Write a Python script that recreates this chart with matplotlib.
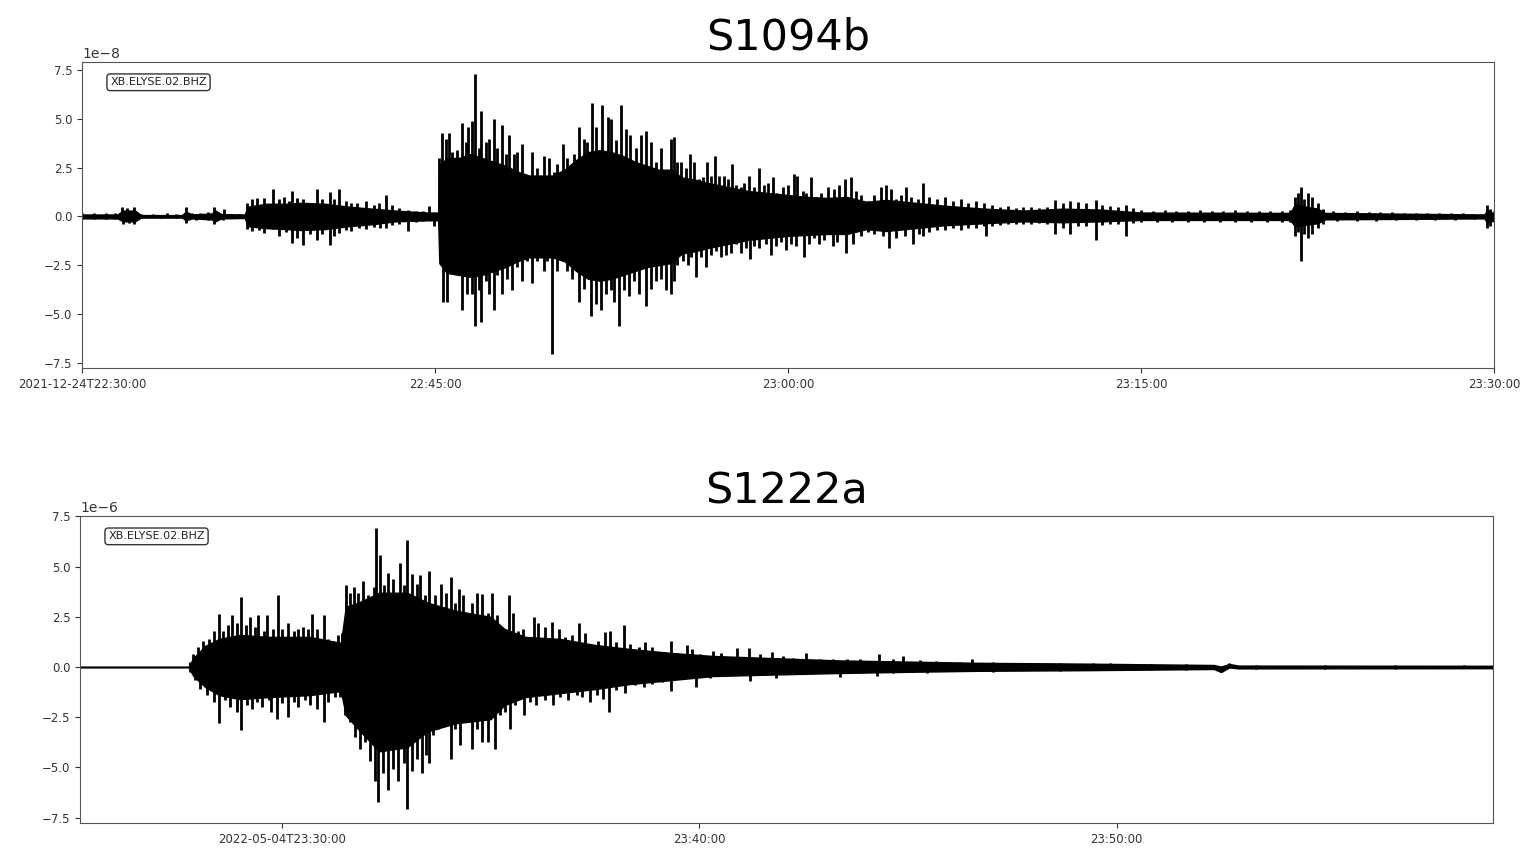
import matplotlib
matplotlib.use("Agg")
import matplotlib.pyplot as plt
import numpy as np

# ---------------- data ----------------
# Panel 1: S1094b — time in s after 2021-12-24T22:30:00, amplitude in units of 1e-8
# solid core of the trace: (t, upper, lower)
core1 = [(0, 0.1, -0.1), (90, 0.1, -0.1), (105, 0.3, -0.25), (135, 0.3, -0.25), (150, 0.07, -0.06),
         (255, 0.07, -0.06), (265, 0.25, -0.2), (280, 0.1, -0.1), (330, 0.15, -0.15), (340, 0.3, -0.25),
         (355, 0.12, -0.1), (415, 0.1, -0.08), (422, 0.5, -0.5), (470, 0.65, -0.6), (520, 0.65, -0.65),
         (560, 0.7, -0.7), (620, 0.65, -0.65), (680, 0.5, -0.5), (740, 0.4, -0.4), (800, 0.3, -0.25),
         (880, 0.2, -0.2), (908, 0.2, -0.2), (911, 2.6, -2.4), (930, 3.0, -2.9), (960, 3.0, -3.0),
         (990, 3.2, -3.1), (1020, 3.0, -3.0), (1050, 2.8, -2.8), (1080, 2.6, -2.6), (1110, 2.3, -2.3),
         (1140, 2.1, -2.1), (1170, 2.1, -2.1), (1200, 2.1, -2.1), (1230, 2.4, -2.3), (1260, 2.9, -2.8),
         (1290, 3.3, -3.2), (1320, 3.4, -3.3), (1350, 3.3, -3.2), (1380, 3.1, -3.0), (1410, 2.8, -2.8),
         (1440, 2.6, -2.6), (1470, 2.4, -2.5), (1500, 2.4, -2.4), (1530, 2.0, -1.9), (1560, 1.9, -1.8),
         (1600, 1.7, -1.6), (1650, 1.5, -1.4), (1700, 1.3, -1.2), (1750, 1.2, -1.1), (1800, 1.1, -1.0),
         (1850, 1.0, -0.95), (1900, 0.95, -0.9), (1950, 1.0, -0.9), (2000, 0.75, -0.65), (2050, 0.85, -0.75),
         (2100, 0.75, -0.65), (2150, 0.65, -0.55), (2200, 0.55, -0.45), (2300, 0.4, -0.35),
         (2400, 0.3, -0.25), (2500, 0.4, -0.3), (2600, 0.35, -0.25), (2700, 0.2, -0.18), (3080, 0.18, -0.18),
         (3092, 0.6, -0.5), (3150, 0.4, -0.35), (3170, 0.18, -0.15), (3575, 0.1, -0.1), (3582, 0.3, -0.3),
         (3600, 0.15, -0.2)]
# peaks of the trace: (t, value)
peaks1_up = [(0, 0.2), (30, 0.2), (60, 0.2), (85, 0.2), (102, 0.5), (115, 0.45), (132, 0.5), (150, 0.1),
             (180, 0.1), (217, 0.2), (240, 0.1), (264, 0.5), (281, 0.2), (300, 0.2), (320, 0.25),
             (336, 0.5), (350, 0.2), (362, 0.4), (380, 0.15), (400, 0.15), (421, 0.7), (434, 0.9),
             (447, 0.95), (464, 0.95), (472, 0.6), (488, 1.4), (502, 0.9), (515, 1.0), (528, 0.8),
             (536, 1.3), (549, 0.95), (564, 0.9), (579, 0.7), (598, 1.4), (613, 0.9), (632, 1.25),
             (643, 0.9), (655, 1.4), (672, 0.8), (685, 0.7), (702, 0.7), (723, 0.8), (745, 0.6),
             (757, 0.7), (776, 1.1), (791, 0.6), (808, 0.45), (830, 0.35), (851, 0.3), (870, 0.3),
             (885, 0.55), (898, 0.1),
             (910, 3.0), (918, 4.3), (927, 4.0), (935, 4.3), (944, 3.3), (957, 3.4), (969, 4.8),
             (978, 3.8), (985, 4.6), (995, 4.9), (1003, 7.3), (1012, 3.5), (1018, 5.4), (1029, 3.8),
             (1037, 4.0), (1050, 5.0), (1059, 3.5), (1071, 4.7), (1080, 3.2), (1088, 4.2), (1101, 3.2),
             (1110, 3.3), (1122, 3.7), (1131, 2.1), (1148, 3.3), (1161, 2.5), (1178, 3.1), (1191, 3.0),
             (1203, 2.3), (1212, 2.7), (1225, 3.7), (1237, 3.0), (1254, 3.2), (1267, 4.6), (1280, 4.0),
             (1288, 3.8), (1299, 5.8), (1310, 4.6), (1325, 5.7), (1340, 5.1), (1348, 5.0), (1361, 3.9),
             (1374, 5.7), (1386, 4.5), (1397, 4.2), (1412, 3.5), (1425, 4.2), (1437, 4.4), (1450, 3.8),
             (1463, 2.8), (1476, 3.5), (1488, 2.1), (1501, 4.0),
             (1510, 4.1), (1518, 2.8), (1527, 2.8), (1539, 2.5), (1550, 3.2), (1561, 2.8), (1573, 1.9),
             (1582, 2.0), (1593, 2.8), (1603, 2.1), (1614, 3.1), (1624, 2.1), (1637, 2.1), (1646, 1.9),
             (1656, 2.7), (1667, 1.6), (1680, 1.5), (1688, 1.7), (1701, 2.1), (1714, 1.5), (1725, 2.5),
             (1739, 1.6), (1748, 1.7), (1761, 2.0), (1773, 1.2), (1786, 1.5), (1799, 1.6), (1814, 2.2),
             (1824, 2.1), (1837, 1.3), (1846, 1.2), (1858, 2.0), (1871, 1.0), (1884, 1.2), (1901, 1.5),
             (1918, 1.4), (1931, 1.6), (1944, 1.9), (1961, 2.0), (1973, 1.3), (1986, 1.1), (2003, 0.8),
             (2020, 1.1), (2037, 1.5), (2050, 1.6), (2063, 1.4), (2075, 0.9), (2088, 1.1), (2101, 1.5),
             (2114, 1.0), (2131, 0.9),
             (2144, 1.7), (2160, 1.0), (2180, 0.9), (2200, 1.0), (2220, 0.8), (2240, 0.9), (2260, 0.7),
             (2280, 0.8), (2300, 0.7), (2320, 0.6), (2340, 0.5), (2360, 0.55), (2380, 0.45), (2400, 0.5),
             (2420, 0.5), (2440, 0.45), (2460, 0.5), (2480, 0.85), (2500, 0.7), (2520, 0.8), (2540, 0.75),
             (2560, 0.7), (2586, 0.85), (2600, 0.6), (2620, 0.55), (2640, 0.5), (2662, 0.6), (2680, 0.45),
             (2700, 0.35), (2730, 0.3), (2760, 0.35), (2790, 0.3), (2820, 0.3), (2850, 0.35), (2880, 0.3),
             (2910, 0.3), (2940, 0.35), (2970, 0.3), (3000, 0.3), (3030, 0.3), (3060, 0.3), (3080, 0.35),
             (3092, 1.0), (3100, 1.2), (3107, 1.5), (3115, 0.9), (3125, 1.2), (3135, 1.0), (3150, 0.7),
             (3165, 0.4), (3190, 0.3), (3220, 0.25), (3250, 0.3), (3280, 0.25), (3310, 0.25), (3340, 0.25),
             (3370, 0.2), (3400, 0.2), (3430, 0.2), (3460, 0.2), (3490, 0.2), (3520, 0.18), (3550, 0.15),
             (3570, 0.15), (3581, 0.6), (3590, 0.4), (3600, 0.3)]
peaks1_dn = [(0, -0.15), (30, -0.15), (60, -0.15), (85, -0.15), (105, -0.4), (120, -0.35), (132, -0.4),
             (150, -0.07), (200, -0.07), (240, -0.07), (264, -0.35), (290, -0.2), (320, -0.2), (336, -0.4),
             (360, -0.2), (390, -0.1), (421, -0.67), (434, -0.75), (450, -0.7), (464, -0.85), (488, -0.67),
             (502, -1.0), (520, -0.8), (536, -1.35), (549, -1.1), (564, -1.45), (580, -0.9), (598, -1.2),
             (613, -0.9), (632, -1.45), (643, -1.0), (655, -0.85), (672, -0.7), (685, -0.75), (705, -0.6),
             (723, -0.67), (745, -0.55), (760, -0.6), (776, -0.6), (790, -0.45), (808, -0.4), (830, -0.75),
             (851, -0.3), (870, -0.25), (885, -0.15), (898, -0.5),
             (914, -2.3), (920, -4.4), (931, -4.4), (944, -2.8), (957, -2.6), (969, -4.8), (982, -4.0),
             (995, -4.0), (1003, -5.6), (1012, -3.8), (1018, -5.4), (1029, -3.3), (1037, -4.0),
             (1050, -4.8), (1059, -3.0), (1071, -4.0), (1084, -3.2), (1097, -3.8), (1110, -2.6),
             (1122, -3.3), (1135, -2.3), (1148, -3.4), (1161, -2.3), (1178, -2.8), (1186, -2.3),
             (1197, -7.06), (1212, -2.8), (1225, -2.3), (1237, -2.8), (1250, -3.2), (1267, -4.4),
             (1280, -3.7), (1297, -5.1), (1310, -4.5), (1322, -4.8), (1335, -4.0), (1348, -3.8),
             (1357, -4.4), (1369, -5.6), (1382, -3.8), (1395, -4.1), (1408, -3.3), (1420, -4.0),
             (1437, -4.6), (1450, -3.7), (1463, -3.3), (1476, -3.2), (1488, -3.8),
             (1501, -4.0), (1510, -3.3), (1518, -2.5), (1531, -2.3), (1544, -2.5), (1552, -2.1),
             (1565, -3.1), (1578, -2.1), (1590, -2.6), (1603, -2.0), (1616, -1.8), (1629, -2.1),
             (1641, -2.0), (1654, -1.9), (1667, -1.4), (1680, -1.9), (1693, -1.6), (1703, -2.2),
             (1714, -1.5), (1727, -1.6), (1744, -1.4), (1756, -2.0), (1769, -1.5), (1782, -1.3),
             (1795, -1.7), (1807, -1.4), (1820, -1.5), (1840, -2.1), (1854, -1.4), (1867, -1.1),
             (1880, -1.4), (1892, -1.2), (1914, -1.5), (1926, -1.3), (1948, -1.9), (1965, -1.4),
             (1986, -1.0), (2003, -0.8), (2020, -0.9), (2041, -1.0), (2058, -1.6), (2075, -1.1),
             (2097, -1.0), (2118, -1.4), (2135, -0.9),
             (2144, -1.0), (2160, -0.8), (2180, -0.7), (2200, -0.7), (2220, -0.6), (2240, -0.7),
             (2260, -0.6), (2280, -0.6), (2300, -0.5), (2304, -1.0), (2320, -0.5), (2340, -0.45),
             (2360, -0.4), (2380, -0.4), (2400, -0.4), (2420, -0.4), (2440, -0.35), (2460, -0.4),
             (2480, -0.9), (2500, -0.6), (2520, -0.9), (2540, -0.5), (2560, -0.5), (2586, -1.2),
             (2600, -0.45), (2620, -0.4), (2640, -0.4), (2662, -1.0), (2680, -0.35), (2700, -0.3),
             (2740, -0.3), (2780, -0.3), (2820, -0.3), (2860, -0.3), (2900, -0.3), (2940, -0.3),
             (2980, -0.3), (3020, -0.3), (3060, -0.3), (3080, -0.3), (3092, -1.0), (3100, -0.8),
             (3107, -2.3), (3115, -0.9), (3125, -1.1), (3135, -0.9), (3150, -0.6), (3165, -0.4),
             (3200, -0.25), (3250, -0.25), (3300, -0.22), (3350, -0.2), (3400, -0.2), (3450, -0.18),
             (3500, -0.17), (3550, -0.15), (3581, -0.6), (3590, -0.5), (3600, -0.3)]
ticks1 = [0, 900, 1800, 2700, 3600]
ticklabels1 = ["2021-12-24T22:30:00", "22:45:00", "23:00:00", "23:15:00", "23:30:00"]

# Panel 2: S1222a — time in s relative to 2022-05-04T23:30:00, amplitude in units of 1e-6
core2 = [(-290, 0.02, -0.02), (-134, 0.02, -0.02), (-127, 0.45, -0.45), (-110, 1.05, -1.0),
         (-90, 1.4, -1.4), (-60, 1.6, -1.6), (-20, 1.5, -1.5), (40, 1.5, -1.4), (85, 1.2, -1.2),
         (92, 3.0, -2.4), (110, 3.2, -3.1), (140, 3.7, -4.2), (180, 3.7, -4.0), (210, 3.2, -3.2),
         (250, 2.8, -2.8), (300, 2.5, -2.6), (320, 1.9, -1.9), (350, 1.5, -1.5), (400, 1.4, -1.3),
         (450, 1.1, -1.1), (500, 0.9, -0.85), (560, 0.7, -0.65), (620, 0.55, -0.45), (700, 0.45, -0.38),
         (800, 0.33, -0.3), (900, 0.27, -0.24), (1000, 0.21, -0.19), (1150, 0.17, -0.16),
         (1340, 0.1, -0.1), (1350, 0.02, -0.25), (1362, 0.15, -0.02), (1375, 0.07, -0.07),
         (1741, 0.06, -0.06)]
peaks2_up = [(-290, 0.02), (-136, 0.02), (-132, 0.25), (-127, 0.65), (-120, 1.0), (-113, 1.3), (-105, 1.4),
             (-98, 1.8), (-90, 2.65), (-84, 1.8), (-78, 2.1), (-72, 2.6), (-65, 2.2), (-58, 3.5), (-51, 2.1),
             (-45, 2.5), (-38, 2.0), (-34, 2.6), (-26, 1.8), (-21, 2.6), (-13, 1.9), (-6, 3.6), (0, 1.9),
             (9.5, 2.2), (17, 1.8), (24, 1.9), (31, 2.0), (38, 1.9), (43, 2.65), (50, 1.9), (60, 2.6),
             (67, 1.4), (74, 1.3), (81, 1.6), (86, 1.7), (92, 4.1), (98, 3.7), (104, 4.0), (110, 3.7),
             (117, 4.3), (124, 3.6), (132, 4.0), (136, 6.9), (141, 5.6), (147, 4.1), (153, 4.7), (160, 4.4),
             (170, 5.2), (175, 4.1), (180, 6.3), (187, 4.65), (194, 4.15), (199, 4.6), (206, 3.6), (211, 4.8),
             (216, 2.7), (220, 3.6), (229, 4.15), (236, 3.7), (243, 4.5), (249, 3.2), (255, 3.9), (261, 3.6),
             (268, 2.6), (273, 3.2), (281, 3.7), (288, 3.65), (296, 2.7), (302, 3.7), (309, 2.6), (316, 1.9),
             (327, 3.6), (333, 2.7), (340, 1.8), (347, 1.9), (354, 1.3), (362, 2.5), (369, 2.2), (378, 2.0),
             (388, 2.25), (398, 1.9), (407, 1.5), (417, 1.6), (427, 2.2), (436, 1.7), (446, 1.1), (455, 1.3),
             (465, 1.75), (472, 1.8), (481, 1.25), (492, 2.1), (501, 1.15), (513, 1.0), (522, 1.25),
             (532, 1.0), (541, 0.75), (551, 0.75), (560, 1.3), (568, 0.7), (582, 1.1), (589, 0.9),
             (601, 0.65), (620, 0.8), (632, 0.7), (655, 0.95), (672, 0.95), (687, 0.65), (704, 0.75),
             (721, 0.55), (735, 0.45), (754, 0.7), (774, 0.4), (793, 0.4), (812, 0.4), (831, 0.4),
             (859, 0.65), (879, 0.4), (893, 0.55), (917, 0.35), (941, 0.3), (975, 0.27), (992, 0.4),
             (1023, 0.25), (1071, 0.22), (1118, 0.22), (1166, 0.2), (1190, 0.2), (1250, 0.15), (1300, 0.15),
             (1340, 0.12), (1362, 0.2), (1400, 0.1), (1500, 0.1), (1600, 0.1), (1700, 0.1), (1741, 0.1)]
peaks2_dn = [(-290, -0.02), (-136, -0.02), (-132, -0.25), (-125, -0.65), (-117, -1.1), (-108, -1.4),
             (-98, -1.75), (-90, -2.8), (-81, -1.65), (-74, -2.0), (-65, -2.25), (-58, -3.15), (-50, -1.9),
             (-43, -2.1), (-36, -1.75), (-29, -2.0), (-19, -1.65), (-15, -2.25), (-7, -2.6), (0, -1.8),
             (9.5, -2.5), (17, -1.75), (24, -2.0), (33, -1.65), (41, -1.9), (50, -2.1), (60, -2.75),
             (67, -1.75), (76, -1.5), (84, -1.5), (91, -2.4), (98, -2.75), (105, -3.5), (112, -4.1),
             (120, -3.75), (127, -4.7), (134, -5.7), (139, -6.7), (146, -5.3), (153, -6.1), (160, -5.1),
             (167, -5.7), (175, -4.8), (180, -7.05), (187, -5.2), (194, -4.6), (201, -5.3), (208, -4.4),
             (212, -4.8), (218, -3.4), (225, -3.1), (232, -2.8), (243, -4.6), (249, -3.1), (256, -3.9),
             (263, -2.75), (273, -4.1), (280, -3.1), (288, -3.75), (297, -3.75), (306, -4.1), (314, -2.4),
             (321, -2.25), (328, -3.1), (335, -1.9), (348, -2.4), (357, -1.75), (366, -1.9), (378, -1.65),
             (390, -1.9), (400, -1.5), (412, -1.65), (424, -1.4), (431, -1.5), (443, -1.75), (453, -1.4),
             (462, -1.6), (470, -2.25), (481, -1.15), (493, -1.3), (508, -0.9), (520, -1.0), (532, -0.85),
             (546, -0.75), (560, -1.2), (572, -0.6), (596, -1.0), (616, -0.55), (640, -0.45), (673, -0.7),
             (711, -0.55), (745, -0.37), (802, -0.5), (855, -0.45), (879, -0.3), (927, -0.28),
             (1023, -0.23), (1118, -0.2), (1190, -0.17), (1250, -0.15), (1300, -0.13), (1350, -0.25),
             (1400, -0.1), (1500, -0.1), (1600, -0.1), (1741, -0.1)]
ticks2 = [0, 600, 1200]
ticklabels2 = ["2022-05-04T23:30:00", "23:40:00", "23:50:00"]

titles = ["S1094b", "S1222a"]
station = "XB.ELYSE.02.BHZ"
scales = [1e-8, 1e-6]
xlims = [(0, 3600), (-290, 1741)]
ylims = [(-7.78, 7.93), (-7.77, 7.52)]

# ---------------- drawing ----------------
fig = plt.figure(figsize=(15.36, 8.63), dpi=100)
ax1 = fig.add_axes([0.0534, 0.5736, 0.9193, 0.3546])
ax2 = fig.add_axes([0.0521, 0.0463, 0.9199, 0.3558])

panels = [(ax1, core1, peaks1_up, peaks1_dn, ticks1, ticklabels1),
          (ax2, core2, peaks2_up, peaks2_dn, ticks2, ticklabels2)]

for i, (ax, core, pu, pd, tk, tl) in enumerate(panels):
    s = scales[i]
    c = np.array(core, float)
    ax.fill_between(c[:, 0], c[:, 2] * s, c[:, 1] * s, color="black", linewidth=1.0,
                    edgecolor="black")
    u = np.array(pu, float)
    d = np.array(pd, float)
    ax.vlines(u[:, 0], 0, u[:, 1] * s, color="black", linewidth=2.0)
    ax.vlines(d[:, 0], d[:, 1] * s, 0, color="black", linewidth=2.0)
    ax.set_xlim(*xlims[i])
    ax.set_ylim(ylims[i][0] * s, ylims[i][1] * s)
    ax.set_yticks(np.array([-7.5, -5.0, -2.5, 0.0, 2.5, 5.0, 7.5]) * s)
    ax.set_xticks(tk)
    ax.set_xticklabels(tl)
    ax.tick_params(labelsize=8.5, colors="#333333")
    for sp in ax.spines.values():
        sp.set_color("#555555")
    ax.yaxis.get_offset_text().set_fontsize(10)
    ax.yaxis.get_offset_text().set_color("#333333")
    ax.set_title(titles[i], fontsize=31, pad=9)
    ax.text(0.02, 0.95, station, transform=ax.transAxes, ha="left", va="top", fontsize=8,
            color="#222222",
            bbox=dict(boxstyle="round,pad=0.3", fc="white", ec="#333333", lw=1.0))

fig.savefig("out.png", dpi=100)
